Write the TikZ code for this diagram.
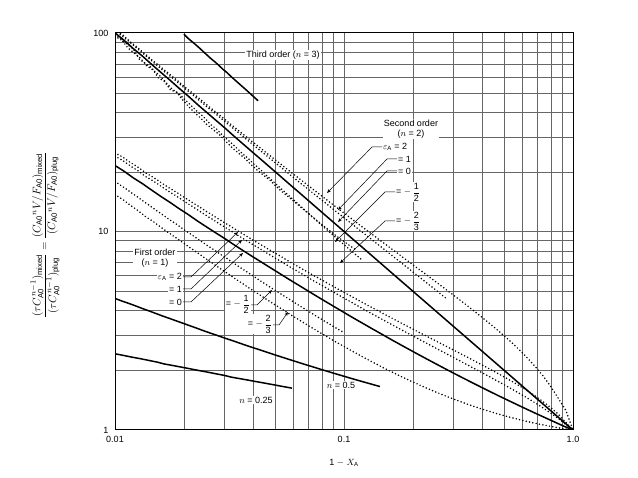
\documentclass[tikz,border=0pt]{standalone}
\usepackage{fontspec}
\setmainfont{Liberation Sans}
\usetikzlibrary{arrows.meta}
\newcommand{\hfr}[2]{$\displaystyle\frac{\mbox{#1}}{\mbox{#2}}$}
\tikzset{
  gridline/.style={gray!80!black,line width=0.45pt},
  solidc/.style={line width=1.5pt},
  dotc/.style={line width=1.7pt,line cap=round,dash pattern=on 0pt off 3.4pt},
  lab/.style={fill=white,inner sep=1pt,font=\fontsize{9}{10}\selectfont},
  tick/.style={font=\fontsize{9}{10}\selectfont},
  lead/.style={line width=0.5pt,-{Stealth[length=4pt,width=3pt]}},
  declare function={U(\t)=pow(10,\t); L(\t)=2.302585*\t; PX(\t)=115+229*(\t+2); PY(\r)=430-198.5*log10(\r);
    rtwo(\t,\e)=(1-U(\t))*(1+\e*(1-U(\t)))^2/(2*\e*(1+\e)*U(\t)^2*L(\t)+\e^2*(1-U(\t))*U(\t)^2+(1+\e)^2*(1-U(\t))*U(\t));
    rone(\t,\e)=(1-U(\t))*(1+\e*(1-U(\t)))/U(\t)/((1+\e)*(-L(\t))-\e*(1-U(\t)));
    rhalf(\t)=1+0.8*((1-U(\t))/sqrt(U(\t))/(2*(1-sqrt(U(\t))))-1);
    rquart(\t)=(1-U(\t))/pow(U(\t),0.25)/(4/3*(1-pow(U(\t),0.75)));
    rthree(\t)=2/(U(\t)*(1+U(\t)));}
}
\begin{document}
\begin{tikzpicture}[x=1pt,y=-1pt]
\useasboundingbox[fill=white] (0,0) rectangle (638,478);
% grid
\foreach \k in {2,...,9}{
  \draw[gridline] ({PX(log10(\k)-2)},33) -- ({PX(log10(\k)-2)},430);
  \draw[gridline] ({PX(log10(\k)-1)},33) -- ({PX(log10(\k)-1)},430);
  \draw[gridline] (115,{PY(\k)}) -- (573,{PY(\k)});
  \draw[gridline] (115,{PY(10*\k)}) -- (573,{PY(10*\k)});
}
\draw[gridline] (344,33) -- (344,430);
\draw[gridline] (115,{PY(10)}) -- (573,{PY(10)});
\draw[line width=1pt] (115,33) rectangle (573,430);
\coordinate (one) at (573,430);
% curves
\begin{scope}
\clip (115,33) rectangle (573,430);
\draw[solidc] plot[domain=-1.699:-1.375,samples=20] ({PX(\x)},{PY(rthree(\x))});
\draw[solidc] plot[domain=-2:-0.04,samples=50] ({PX(\x)},{PY(rtwo(\x,0))}) -- (one);
\draw[dotc] plot[domain=-2:-0.03,samples=60] ({PX(\x)},{PY(rtwo(\x,2))}) -- (one);
\draw[dotc] plot[domain=-2:-0.55,samples=50] ({PX(\x)},{PY(rtwo(\x,1))});
\draw[dotc] plot[domain=-2:-0.917,samples=40] ({PX(\x)},{PY(rtwo(\x,-0.5))});
\draw[dotc] plot[domain=-2:-0.95,samples=40] ({PX(\x)},{PY(rtwo(\x,-0.6667))});
\draw[solidc] plot[domain=-2:-0.04,samples=50] ({PX(\x)},{PY(rone(\x,0))}) -- (one);
\draw[dotc] plot[domain=-2:-0.03,samples=60] ({PX(\x)},{PY(rone(\x,2))}) -- (one);
\draw[dotc] plot[domain=-2:-0.03,samples=60] ({PX(\x)},{PY(rone(\x,1))}) -- (one);
\draw[dotc] plot[domain=-2:-1.0,samples=40] ({PX(\x)},{PY(rone(\x,-0.5))});
\draw[dotc] plot[domain=-2:-0.03,samples=60] ({PX(\x)},{PY(rone(\x,-0.6667))}) -- (one);
\draw[solidc] plot[domain=-2:-0.843,samples=40] ({PX(\x)},{PY(rhalf(\x))});
\draw[solidc] plot[domain=-2:-1.227,samples=30] ({PX(\x)},{PY(rquart(\x))});
\end{scope}
% tick labels
\node[tick,anchor=east] (y100) at (112,33) {100};
\node[tick,anchor=east] (y10) at (112,231) {10};
\node[tick,anchor=east] (y1) at (112,430) {1};
\node[tick,anchor=north] (x001) at (115,433) {0.01};
\node[tick,anchor=north] (x01) at (344,433) {0.1};
\node[tick,anchor=north] (x1) at (573,433) {1.0};
\node[tick] (xlab) at (344,463) {1 $-$ $X_{\mathrm{A}}$};
\node[rotate=90,font=\fontsize{11}{12}\selectfont] (ylab) at (45,235) {$\displaystyle\frac{(\tau C_{\mathrm{A0}}^{\,n-1})_{\mathrm{mixed}}}{(\tau C_{\mathrm{A0}}^{\,n-1})_{\mathrm{plug}}}=\frac{(C_{\mathrm{A0}}{}^{n}V/F_{\mathrm{A0}})_{\mathrm{mixed}}}{(C_{\mathrm{A0}}{}^{n}V/F_{\mathrm{A0}})_{\mathrm{plug}}}$};
% order labels
\node[lab] (third) at (283,55) {Third order ($n$ = 3)};
\node[lab,align=center] (second) at (411,129) {Second order\\($n$ = 2)};
\node[lab,anchor=west] (s2) at (382,147) {$\varepsilon_{\mathrm{A}}$ = 2};
\node[lab,anchor=west] (s1) at (397,159) {= 1};
\node[lab,anchor=west] (s0) at (397,171) {= 0};
\node[lab,anchor=west] (sm12) at (395,192) {= $-$\,\hfr{1}{2}};
\node[lab,anchor=west] (sm23) at (395,221) {= $-$\,\hfr{2}{3}};
\coordinate (ts2) at (327,193);
\coordinate (ts1) at (338,210);
\coordinate (ts0) at (338,222);
\coordinate (tsm12) at (335,242);
\coordinate (tsm23) at (340,263);
\draw[lead] (s2.west) -- ++(-10,0) -- (ts2);
\draw[lead] (s1.west) -- ++(-10,0) -- (ts1);
\draw[lead] (s0.west) -- ++(-10,0) -- (ts0);
\draw[lead] (sm12.west) -- ++(-10,0) -- (tsm12);
\draw[lead] (sm23.west) -- ++(-10,0) -- (tsm23);
\node[lab,align=center] (first) at (155,258) {First order\\($n$ = 1)};
\node[lab,anchor=east] (f2) at (183,277) {$\varepsilon_{\mathrm{A}}$ = 2};
\node[lab,anchor=east] (f1) at (183,289) {= 1};
\node[lab,anchor=east] (f0) at (183,302) {= 0};
\node[lab,anchor=east] (fm12) at (251,304) {= $-$\,\hfr{1}{2}};
\node[lab,anchor=east] (fm23) at (273,324) {= $-$\,\hfr{2}{3}};
\coordinate (tf2) at (238,232);
\coordinate (tf1) at (242,240);
\coordinate (tf0) at (243,253);
\coordinate (tfm12) at (272,290);
\coordinate (tfm23) at (288,312);
\draw[lead] (f2.east) -- ++(8,0) -- (tf2);
\draw[lead] (f1.east) -- ++(8,0) -- (tf1);
\draw[lead] (f0.east) -- ++(8,0) -- (tf0);
\draw[lead] ([yshift=-1pt]fm12.east) -- ++(6,0) -- (tfm12);
\draw[lead] ([yshift=-1pt]fm23.east) -- ++(6,0) -- (tfm23);
\node[lab] (nhalf) at (341,385) {$n$ = 0.5};
\node[lab] (nquart) at (256,400) {$n$ = 0.25};
\end{tikzpicture}
\end{document}
